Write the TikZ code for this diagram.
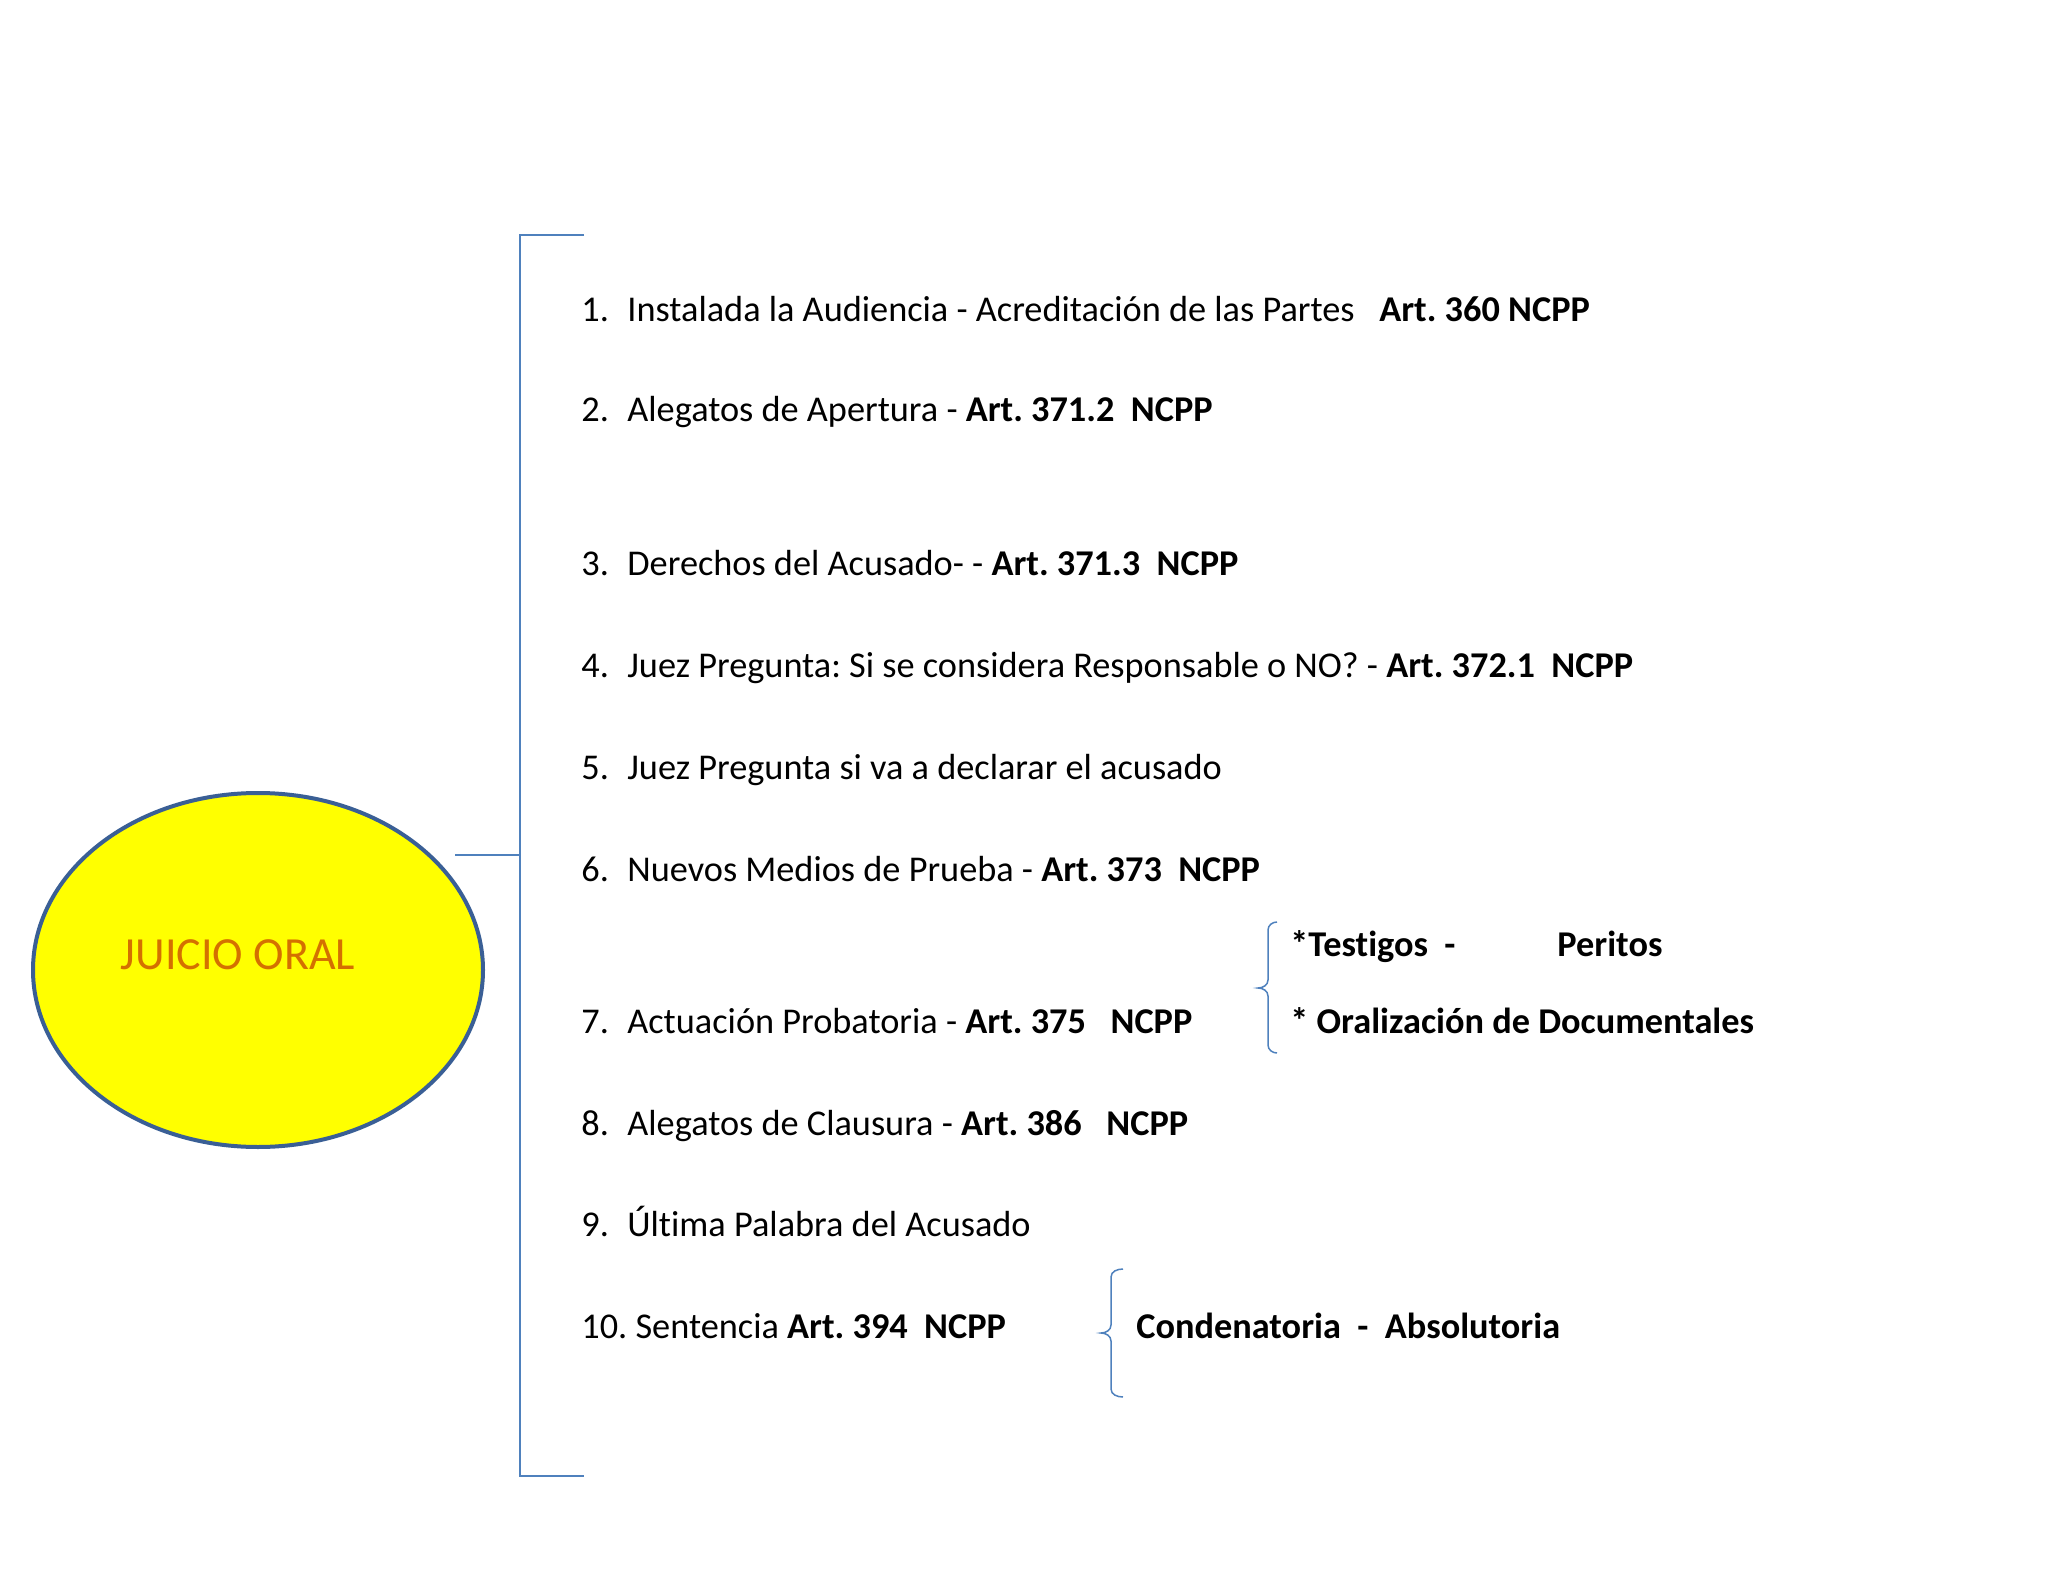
\documentclass[tikz,border=0pt]{standalone}
\usepackage{fontspec}
\setmainfont{Carlito}[Ligatures=NoCommon]
\usepackage{tikz}
\usetikzlibrary{shapes.geometric}
\definecolor{ovalline}{RGB}{58,95,149}
\definecolor{ovalfill}{RGB}{255,255,0}
\definecolor{ovaltext}{RGB}{212,112,0}
\definecolor{brline}{RGB}{79,129,189}
\newcommand{\numero}[1]{\makebox[23pt][l]{#1}}
\tikzset{
  paso/.style={anchor=base west, inner sep=0pt, font=\fontsize{18.15}{22}\selectfont},
  llave/.style={draw=brline, line width=0.75pt},
}
\frenchspacing

\begin{document}
\begin{tikzpicture}[x=0.5pt,y=-0.5pt]
\useasboundingbox (0,0) rectangle (2048,1582);
%%% Draws the oval
\node[ellipse, draw=ovalline, line width=2pt, fill=ovalfill, minimum width=225pt, minimum height=177pt, inner sep=0pt] (juicio) at (258,970) {};
\node[inner sep=0pt, text=ovaltext, font=\fontsize{23}{28}\selectfont] (juiciotxt) at (238,955) {JUICIO ORAL};
%%% Draws the bracket
\coordinate (jsal) at (455,855);
\coordinate (jbr) at (520,855);
\coordinate (btop) at (520,235);
\coordinate (bbot) at (520,1476);
\coordinate (btopend) at (584,235);
\coordinate (bbotend) at (584,1476);
\draw[brline, line width=1pt] (jsal) -- (jbr);
\draw[brline, line width=1pt] (btopend) -- (btop) -- (bbot) -- (bbotend);
%%% Draws the steps
\node[paso] (p1) at (581,322) {\numero{1.}Instalada la Audiencia - Acreditación de las Partes\ \ \ \textbf{Art. 360 NCPP}};
\node[paso] (p2) at (581,422) {\numero{2.}Alegatos de Apertura - \textbf{Art. 371.2\ \ NCPP}};
\node[paso] (p3) at (581,575) {\numero{3.}Derechos del Acusado- - \textbf{Art. 371.3\ \ NCPP}};
\node[paso] (p4) at (581,677) {\numero{4.}Juez Pregunta: Si se considera Responsable o NO? - \textbf{Art. 372.1\ \ NCPP}};
\node[paso] (p5) at (581,779) {\numero{5.}Juez Pregunta si va a declarar el acusado};
\node[paso] (p6) at (581,881) {\numero{6.}Nuevos Medios de Prueba - \textbf{Art. 373\ \ NCPP}};
\node[paso] (p7) at (581,1033) {\numero{7.}Actuación Probatoria - \textbf{Art. 375\ \ \ NCPP}};
\node[paso] (p8) at (581,1135) {\numero{8.}Alegatos de Clausura - \textbf{Art. 386\ \ \ NCPP}};
\node[paso] (p9) at (581,1236) {\numero{9.}Última Palabra del Acusado};
\node[paso] (p10) at (581,1338) {10.\ Sentencia \textbf{Art. 394\ \ NCPP}};
%%% Draws the braces
% prueba
\coordinate (l1top) at (1277,922);
\coordinate (l1bot) at (1277,1053);
\draw[llave] (l1top) to[out=180,in=90] ++(-9,8) -- ++(0,50) to[out=-90,in=0] ++(-10,8)
  to[out=0,in=90] ++(10,8) -- ++(0,49) to[out=-90,in=180] (l1bot);
\node[paso] (testigos) at (1290,956) {\textbf{*Testigos\ \ -}};
\node[paso] (peritos) at (1557,956) {\textbf{Peritos}};
\node[paso] (oraliz) at (1290,1033) {\textbf{* Oralización de Documentales}};
% sentencia
\coordinate (l2top) at (1123,1269);
\coordinate (l2bot) at (1123,1397);
\draw[llave] (l2top) to[out=180,in=90] ++(-12,8) -- ++(0,48) to[out=-90,in=0] ++(-10,8)
  to[out=0,in=90] ++(10,8) -- ++(0,48) to[out=-90,in=180] (l2bot);
\node[paso] (fallo) at (1136,1338) {\textbf{Condenatoria\ \ -\ \ Absolutoria}};
\end{tikzpicture}
\end{document}
